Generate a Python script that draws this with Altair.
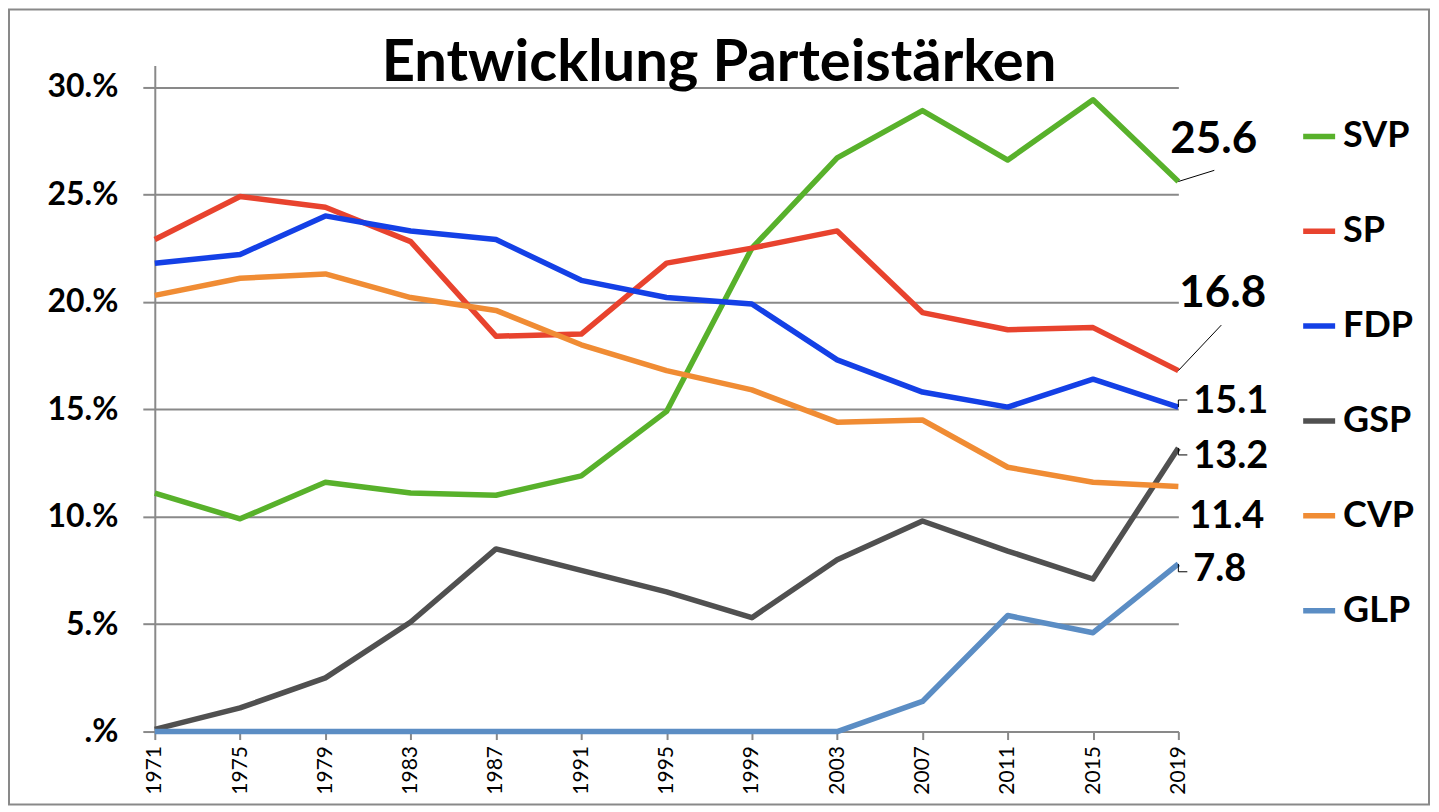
import altair as alt
import pandas as pd

years = [1971, 1975, 1979, 1983, 1987, 1991, 1995, 1999, 2003, 2007, 2011, 2015, 2019]
parties = ["SVP", "SP", "FDP", "GSP", "CVP", "GLP"]
svp = [11.1, 9.9, 11.6, 11.1, 11.0, 11.9, 14.9, 22.5, 26.7, 28.9, 26.6, 29.4, 25.6]
sp = [22.9, 24.9, 24.4, 22.8, 18.4, 18.5, 21.8, 22.5, 23.3, 19.5, 18.7, 18.8, 16.8]
fdp = [21.8, 22.2, 24.0, 23.3, 22.9, 21.0, 20.2, 19.9, 17.3, 15.8, 15.1, 16.4, 15.1]
gsp = [0.1, 1.1, 2.5, 5.1, 8.5, 7.5, 6.5, 5.3, 8.0, 9.8, 8.4, 7.1, 13.2]
cvp = [20.3, 21.1, 21.3, 20.2, 19.6, 18.0, 16.8, 15.9, 14.4, 14.5, 12.3, 11.6, 11.4]
glp = [0.0, 0.0, 0.0, 0.0, 0.0, 0.0, 0.0, 0.0, 0.0, 1.4, 5.4, 4.6, 7.8]
y_ticks = [0, 5, 10, 15, 20, 25, 30]
colors = ["#58B12B", "#E8432E", "#1440E6", "#505050", "#F08C34", "#5B8DC4"]
title_text = "Entwicklung Parteistärken"

series = {"SVP": svp, "SP": sp, "FDP": fdp, "GSP": gsp, "CVP": cvp, "GLP": glp}
rows = []
for p in parties:
    for yr, v in zip(years, series[p]):
        rows.append({"party": p, "year": yr, "value": v})
df = pd.DataFrame(rows)

GRID = "#898989"


def X():
    return alt.X(
        "year:Q",
        scale=alt.Scale(domain=[years[0], years[-1]], nice=False, zero=False),
        axis=alt.Axis(
            values=years, format="d", labelAngle=-90, labelFont="Lato",
            labelFontSize=21, labelColor="black", tickColor=GRID, tickSize=8,
            tickWidth=2, domainColor=GRID, domainWidth=2, grid=False,
            title=None, labelPadding=6,
        ),
    )


def Y():
    return alt.Y(
        "value:Q",
        scale=alt.Scale(domain=[0, 31], nice=False),
        axis=alt.Axis(
            values=y_ticks, labelExpr="datum.value == 0 ? '.%' : datum.value + '.%'",
            labelFont="Lato", labelFontWeight="bold", labelFontSize=32,
            labelColor="black", tickColor=GRID, tickSize=12, tickWidth=2,
            domainColor=GRID, domainWidth=2, grid=True, gridColor=GRID,
            gridWidth=2, title=None, labelPadding=25,
        ),
    )


one = pd.DataFrame({"a": [0]})

frame = alt.Chart(one).mark_rect(fillOpacity=0, stroke=GRID, strokeWidth=2).encode(
    x=alt.value(-146), x2=alt.value(1276), y=alt.value(-56), y2=alt.value(740)
)

lines = alt.Chart(df).mark_line(strokeWidth=5.5, strokeJoin="round").encode(
    x=X(),
    y=Y(),
    color=alt.Color(
        "party:N",
        scale=alt.Scale(domain=parties, range=colors),
        legend=alt.Legend(
            orient="none", legendX=1147, legendY=52, title=None,
            symbolType="stroke", symbolSize=1024, symbolStrokeWidth=5.5,
            labelFont="Lato", labelFontSize=36, labelFontWeight="bold",
            labelColor="black", rowPadding=58, labelOffset=5, padding=0,
        ),
    ),
)

# end-value labels: (party, dx, dy, fontSize)
label_style = [
    ("SVP", -8, -42, 44),
    ("SP", 1, -77, 44),
    ("FDP", 15, -5, 38),
    ("GSP", 15, 9, 38),
    ("CVP", 11, 30, 38),
    ("GLP", 15, 6, 38),
]

layers = [frame, lines]

for p, dx, dy, fs in label_style:
    d = pd.DataFrame({"year": [years[-1]], "value": [series[p][-1]], "label": [f"{series[p][-1]}"]})
    layers.append(
        alt.Chart(d).mark_text(
            dx=dx, dy=dy, align="left", baseline="middle", font="Lato",
            fontWeight="bold", fontSize=fs, color="black",
        ).encode(x=X(), y=Y(), text="label:N")
    )


def last(p):
    return pd.DataFrame({"year": [years[-1]], "value": [series[p][-1]]})


for p, tx, ty in [("SVP", 1061, 105), ("SP", 1068, 260)]:
    layers.append(
        alt.Chart(last(p)).mark_rule(color="black", strokeWidth=1).encode(
            x=X(), y=Y(), x2=alt.value(tx), y2=alt.value(ty)
        )
    )

for p, ty in [("FDP", 335), ("GSP", 390), ("GLP", 507)]:
    layers.append(
        alt.Chart(last(p)).mark_rule(color="black", strokeWidth=1).encode(
            x=X(), y=Y(), y2=alt.value(ty)
        )
    )
    layers.append(
        alt.Chart(last(p)).mark_rule(color="black", strokeWidth=1).encode(
            x=X(), x2=alt.value(1034), y=alt.value(ty)
        )
    )

title = alt.Chart(one).mark_text(
    text=title_text, font="Lato", fontSize=58, fontWeight="bold",
    align="center", baseline="alphabetic", color="black",
).encode(x=alt.value(565), y=alt.value(16))
layers.append(title)

chart = alt.layer(*layers).properties(
    width=1025,
    height=667,
    padding={"left": 147, "top": 57, "right": 253, "bottom": 75},
    autosize=alt.AutoSizeParams(type="none"),
    background="white",
).configure_view(strokeWidth=0)

chart.save("out.html", embed_options={"renderer": "svg", "actions": False})
